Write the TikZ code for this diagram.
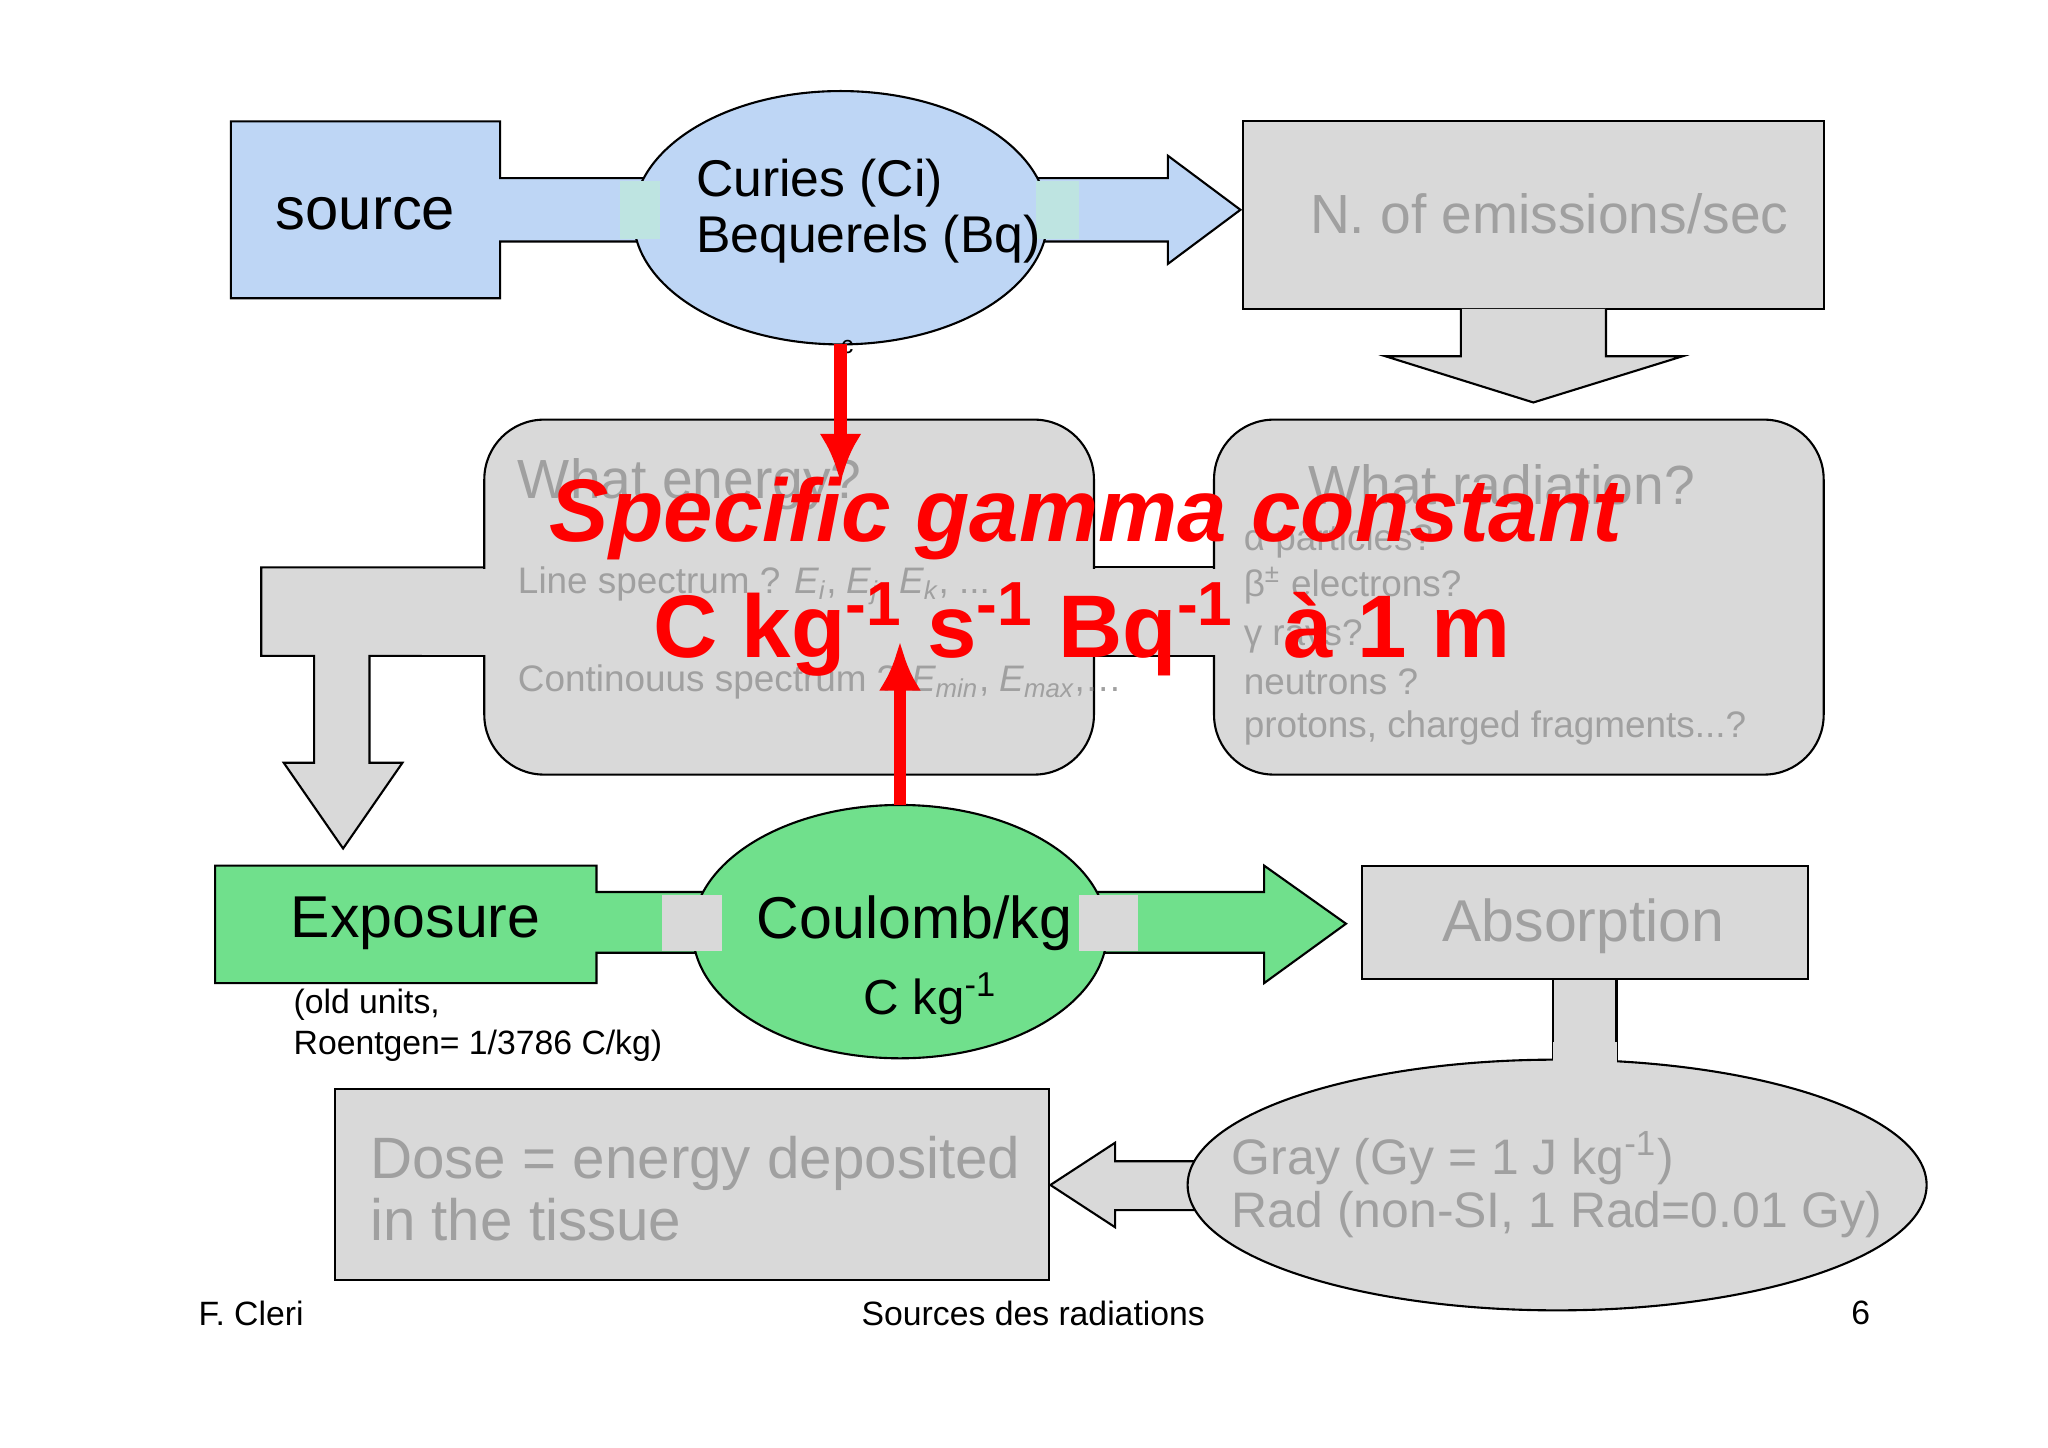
\documentclass[tikz,border=0pt]{standalone}
\usepackage{fontspec}
\setmainfont{Liberation Sans}
\usepackage{tikz}
\definecolor{srcblue}{RGB}{190,214,245}
\definecolor{expgreen}{RGB}{112,224,140}
\definecolor{boxgray}{RGB}{217,217,217}
\definecolor{txtgray}{RGB}{160,160,160}
\definecolor{patch}{RGB}{190,228,225}
\definecolor{brightred}{RGB}{255,0,0}
\tikzset{
  shp/.style={draw=black,line width=0.6pt},
  fs/.style={font=\fontsize{#1}{#1}\selectfont},
  gtxt/.style={text=txtgray,inner sep=0pt},
  btxt/.style={text=black,inner sep=0pt},
  redtxt/.style={text=brightred,font=\fontsize{25.3}{25.3}\selectfont\bfseries,inner sep=0pt},
  redarrow/.style={draw=brightred,line width=3.5pt,-{Latex[length=14pt,width=12pt]}}
}
\usetikzlibrary{arrows.meta}
\begin{document}
\begin{tikzpicture}[x=0.013196cm,y=-0.013196cm]
\useasboundingbox[fill=white] (0,0) rectangle (1552,1097);
% top row: source arrow
\filldraw[shp,fill=srcblue] (175,92) -- (379,92) -- (379,135) -- (885,135) -- (885,118) -- (940,159)
  -- (885,200) -- (885,183) -- (379,183) -- (379,226) -- (175,226) -- cycle;
\filldraw[shp,fill=srcblue] (637,165) ellipse (157 and 96);
\fill[patch] (470,137) rectangle (500,181);
\fill[patch] (785,137) rectangle (818,181);
\node[btxt,fs=17] (src) at (277,162) {source};
\node[btxt,fs=14.7,align=left,anchor=west] (curies) at (527,160) {Curies (Ci)\\[1pt]Bequerels (Bq)};
\node[btxt,font=\fontsize{7}{7}\selectfont] (cc) at (642,263) {c};
% emissions
\filldraw[shp,fill=boxgray] (942,92) rectangle (1382,234);
\node[gtxt,fs=15.7] (emis) at (1174,162) {N. of emissions/sec};
\filldraw[shp,fill=boxgray] (1107,234) -- (1107,270) -- (1050,270) -- (1162,305) -- (1275,270) -- (1217,270) -- (1217,234);
% middle row
\filldraw[shp,fill=boxgray] (367,430) -- (198,430) -- (198,497) -- (238,497) -- (238,578) -- (215,578) -- (260,643)
  -- (305,578) -- (280,578) -- (280,497) -- (367,497);
\filldraw[shp,fill=boxgray] (825,430) rectangle (925,497);
\filldraw[shp,fill=boxgray,rounded corners=17pt] (367,318) rectangle (829,587);
\filldraw[shp,fill=boxgray,rounded corners=17pt] (920,318) rectangle (1382,587);
\fill[boxgray] (826,431) rectangle (923,496);
\fill[boxgray] (320,431) rectangle (368,496);
\node[gtxt,fs=15.7,anchor=west] (energy) at (392,367) {What energy?};
\node[gtxt,fs=10.5,anchor=west] (line) at (392,444) {Line spectrum ? \textit{E\textsubscript{i}}, \textit{E\textsubscript{j}}, \textit{E\textsubscript{k}}, ...};
\node[gtxt,fs=10.5,anchor=west] (cont) at (392,517) {Continouus spectrum ? \textit{E\textsubscript{min}}, \textit{E\textsubscript{max}},…};
\node[gtxt,fs=15.7] (radq) at (1138,367) {What radiation?};
\node[gtxt,fs=10.5,anchor=west] (alpha) at (942,410) {α particles?};
\node[gtxt,fs=10.5,anchor=west] (beta) at (942,444) {β\textsuperscript{±} electrons?};
\node[gtxt,fs=10.5,anchor=west] (gamma) at (942,482) {γ rays?};
\node[gtxt,fs=10.5,anchor=west] (neut) at (942,517) {neutrons ?};
\node[gtxt,fs=10.5,anchor=west] (prot) at (942,552) {protons, charged fragments...?};
% bottom row: exposure arrow
\filldraw[shp,fill=expgreen] (163,656) -- (452,656) -- (452,676) -- (958,676) -- (958,656) -- (1020,700)
  -- (958,745) -- (958,722) -- (452,722) -- (452,745) -- (163,745) -- cycle;
\filldraw[shp,fill=expgreen] (682,706) ellipse (157 and 96);
\fill[boxgray] (502,678) rectangle (547,721);
\fill[boxgray] (818,678) rectangle (862,721);
\node[btxt,fs=16.8] (expo) at (315,700) {Exposure};
\node[btxt,fs=16.8] (coul) at (693,700) {Coulomb/kg};
\node[btxt,fs=14] (ckg) at (705,757) {C kg\textsuperscript{-1}};
\node[btxt,fs=9.6,align=left,anchor=west] (old) at (222,777) {(old units,\\[2pt]Roentgen= 1/3786 C/kg)};
% absorption
\filldraw[shp,fill=boxgray] (1177,740) rectangle (1225,815);
\filldraw[shp,fill=boxgray] (1032,656) rectangle (1370,742);
\node[gtxt,fs=16.8] (absn) at (1200,702) {Absorption};
\filldraw[shp,fill=boxgray] (940,880) -- (845,880) -- (845,866) -- (796,898) -- (845,930) -- (845,917) -- (940,917);
\filldraw[shp,fill=boxgray] (1180,898) ellipse (280 and 95);
\fill[boxgray] (1177,790) rectangle (1225,807);
\node[gtxt,fs=14.2,align=left,anchor=west] (gray) at (933,898) {Gray (Gy = 1 J kg\textsuperscript{-1})\\[1pt]Rad (non-SI, 1 Rad=0.01 Gy)};
\filldraw[shp,fill=boxgray] (254,825) rectangle (795,970);
\node[gtxt,fs=16.6,align=left,anchor=west] (dose) at (280,901) {Dose = energy deposited\\[1pt]in the tissue};
% red overlay
\node[redtxt] (spec) at (823,393) {\itshape Specific gamma constant};
\node[redtxt] (units) at (820,477) {C kg\textsuperscript{-1} s\textsuperscript{-1} Bq\textsuperscript{-1} \ à 1 m};
\coordinate (ctop) at (637,261);
\coordinate (cbot) at (682,610);
\draw[redarrow] (ctop) -- (637,366);
\draw[redarrow] (cbot) -- (682,486);
% footer
\node[btxt,fs=9.6,anchor=west] (auth) at (150,995) {F. Cleri};
\node[btxt,fs=9.6] (title) at (783,995) {Sources des radiations};
\node[btxt,fs=9.6] (page) at (1410,995) {6};
\end{tikzpicture}
\end{document}
